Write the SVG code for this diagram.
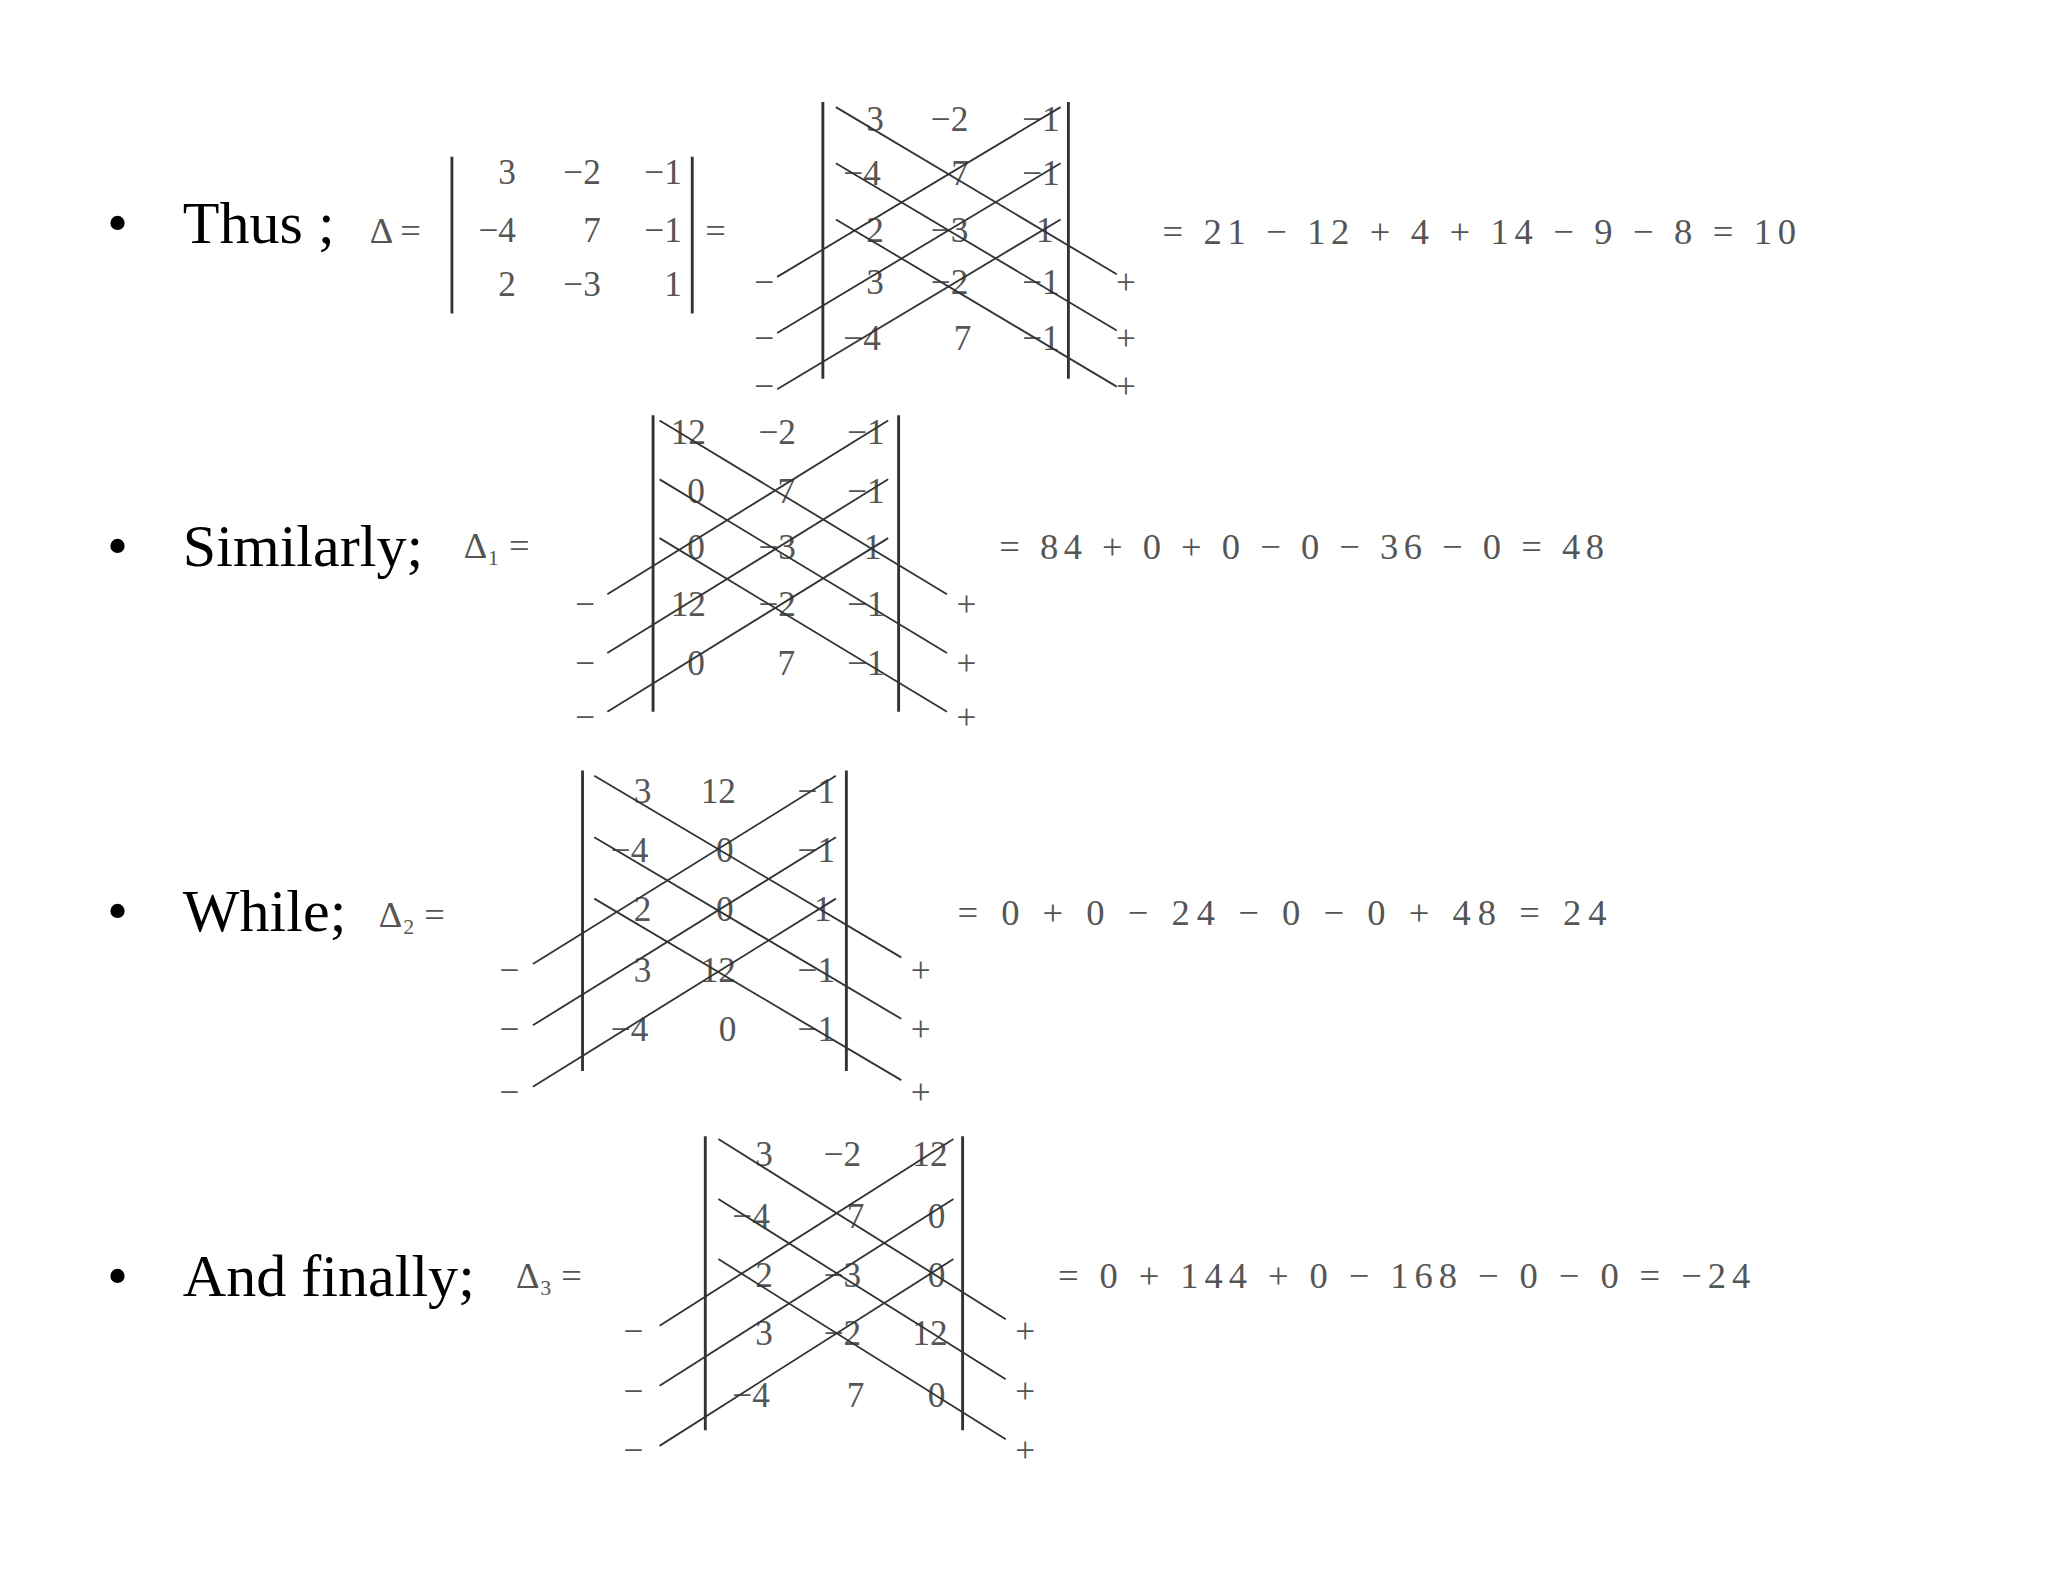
<svg xmlns="http://www.w3.org/2000/svg" width="2048" height="1582" viewBox="0 0 2048 1582">
<style>
.b{font-family:"Liberation Serif",serif;font-size:46px;fill:#000}
.m{font-family:"Liberation Serif",serif;font-size:27px;fill:#555;text-anchor:middle}
.r{font-family:"Liberation Serif",serif;font-size:28px;fill:#555}
.bar{stroke:#333;stroke-width:2.2}
.d{stroke:#333;stroke-width:1.4;fill:none}
</style>
<rect width="2048" height="1582" fill="#fff"/>
<g transform="scale(1.30612)">
<g id="thus">
<text class="b" x="82" y="186">•</text><text class="b" x="140" y="186">Thus ;</text>
<text class="r" x="283" y="186" font-size="24">Δ =</text>
<line class="bar" x1="346" y1="120" x2="346" y2="240"/><line class="bar" x1="530" y1="120" x2="530" y2="240"/>
<g class="m" font-size="24" style="text-anchor:end"><text x="395" y="141">3</text><text x="460" y="141">−2</text><text x="522" y="141">−1</text>
<text x="395" y="185">−4</text><text x="460" y="185">7</text><text x="522" y="185">−1</text>
<text x="395" y="227">2</text><text x="460" y="227">−3</text><text x="522" y="227">1</text></g>
<text class="r" x="540" y="186" font-size="24">=</text>
<line class="bar" x1="630" y1="78" x2="630" y2="290"/><line class="bar" x1="818" y1="78" x2="818" y2="290"/>
<g class="m"><text x="670" y="100">3</text><text x="727" y="100">−2</text><text x="797" y="100">−1</text>
<text x="660" y="142">−4</text><text x="735" y="142">7</text><text x="797" y="142">−1</text>
<text x="670" y="185">2</text><text x="727" y="185">−3</text><text x="800" y="185">1</text>
<text x="670" y="225">3</text><text x="727" y="225">−2</text><text x="797" y="225">−1</text>
<text x="660" y="268">−4</text><text x="737" y="268">7</text><text x="797" y="268">−1</text>
<text x="585" y="225">−</text><text x="585" y="268">−</text><text x="585" y="305">−</text>
<text x="862" y="225">+</text><text x="862" y="268">+</text><text x="862" y="305">+</text></g>
<text class="r" x="890" y="187" textLength="485" lengthAdjust="spacing">=  21 − 12 + 4 + 14 − 9 − 8 = 10</text>
</g>
<g id="similarly">
<text class="b" x="82" y="433">•</text><text class="b" x="140" y="433">Similarly;</text>
<text class="r" x="355" y="427" font-size="26">Δ₁ =</text>
<line class="bar" x1="500" y1="318" x2="500" y2="545"/><line class="bar" x1="688" y1="318" x2="688" y2="545"/>
<g class="m"><text x="527" y="340">12</text><text x="595" y="340">−2</text><text x="663" y="340">−1</text>
<text x="533" y="385">0</text><text x="602" y="385">7</text><text x="663" y="385">−1</text>
<text x="533" y="428">0</text><text x="595" y="428">−3</text><text x="668" y="428">1</text>
<text x="527" y="472">12</text><text x="595" y="472">−2</text><text x="663" y="472">−1</text>
<text x="533" y="517">0</text><text x="602" y="517">7</text><text x="663" y="517">−1</text>
<text x="448" y="472">−</text><text x="448" y="517">−</text><text x="448" y="558">−</text>
<text x="740" y="472">+</text><text x="740" y="517">+</text><text x="740" y="558">+</text></g>
<text class="r" x="765" y="428" textLength="463" lengthAdjust="spacing">= 84 + 0 + 0 − 0 − 36 − 0 = 48</text>
</g>
<g id="while">
<text class="b" x="82" y="713">•</text><text class="b" x="140" y="713">While;</text>
<text class="r" x="290" y="710" font-size="32">Δ₂ =</text>
<line class="bar" x1="446" y1="590" x2="446" y2="820"/><line class="bar" x1="648" y1="590" x2="648" y2="820"/>
<g class="m"><text x="492" y="615">3</text><text x="550" y="615">12</text><text x="625" y="615">−1</text>
<text x="482" y="660">−4</text><text x="555" y="660">0</text><text x="625" y="660">−1</text>
<text x="492" y="705">2</text><text x="555" y="705">0</text><text x="630" y="705">1</text>
<text x="492" y="752">3</text><text x="550" y="752">12</text><text x="625" y="752">−1</text>
<text x="482" y="797">−4</text><text x="557" y="797">0</text><text x="625" y="797">−1</text>
<text x="390" y="752">−</text><text x="390" y="797">−</text><text x="390" y="845">−</text>
<text x="705" y="752">+</text><text x="705" y="797">+</text><text x="705" y="845">+</text></g>
<text class="r" x="733" y="708" textLength="497" lengthAdjust="spacing">= 0 + 0 − 24 − 0 − 0 + 48 = 24</text>
</g>
<g id="finally">
<text class="b" x="82" y="992">•</text><text class="b" x="140" y="992">And finally;</text>
<text class="r" x="395" y="986" font-size="30">Δ₃ =</text>
<line class="bar" x1="540" y1="870" x2="540" y2="1095"/><line class="bar" x1="737" y1="870" x2="737" y2="1095"/>
<g class="m"><text x="585" y="893">3</text><text x="645" y="893">−2</text><text x="712" y="893">12</text>
<text x="575" y="940">−4</text><text x="655" y="940">7</text><text x="717" y="940">0</text>
<text x="585" y="985">2</text><text x="645" y="985">−3</text><text x="717" y="985">0</text>
<text x="585" y="1030">3</text><text x="645" y="1030">−2</text><text x="712" y="1030">12</text>
<text x="575" y="1077">−4</text><text x="655" y="1077">7</text><text x="717" y="1077">0</text>
<text x="485" y="1028">−</text><text x="485" y="1074">−</text><text x="485" y="1119">−</text>
<text x="785" y="1028">+</text><text x="785" y="1074">+</text><text x="785" y="1119">+</text></g>
<text class="r" x="810" y="986" textLength="530" lengthAdjust="spacing">= 0 + 144 + 0 − 168 − 0 − 0 = −24</text>
</g>
<g id="connectors" class="d">
<line x1="640" y1="82" x2="855" y2="210"/><line x1="640" y1="125" x2="855" y2="253"/><line x1="640" y1="168" x2="855" y2="296"/>
<line x1="595" y1="212" x2="812" y2="82"/><line x1="595" y1="255" x2="812" y2="125"/><line x1="595" y1="298" x2="812" y2="168"/>
<line x1="505" y1="322" x2="725" y2="455"/><line x1="505" y1="367" x2="725" y2="500"/><line x1="505" y1="412" x2="725" y2="545"/>
<line x1="465" y1="455" x2="680" y2="322"/><line x1="465" y1="500" x2="680" y2="367"/><line x1="465" y1="545" x2="680" y2="412"/>
<line x1="455" y1="594" x2="690" y2="733"/><line x1="455" y1="641" x2="690" y2="780"/><line x1="455" y1="688" x2="690" y2="827"/>
<line x1="408" y1="738" x2="640" y2="594"/><line x1="408" y1="785" x2="640" y2="641"/><line x1="408" y1="832" x2="640" y2="688"/>
<line x1="550" y1="872" x2="770" y2="1010"/><line x1="550" y1="918" x2="770" y2="1056"/><line x1="550" y1="964" x2="770" y2="1102"/>
<line x1="505" y1="1015" x2="730" y2="872"/><line x1="505" y1="1061" x2="730" y2="918"/><line x1="505" y1="1107" x2="730" y2="964"/>
</g>
</g>
</svg>
